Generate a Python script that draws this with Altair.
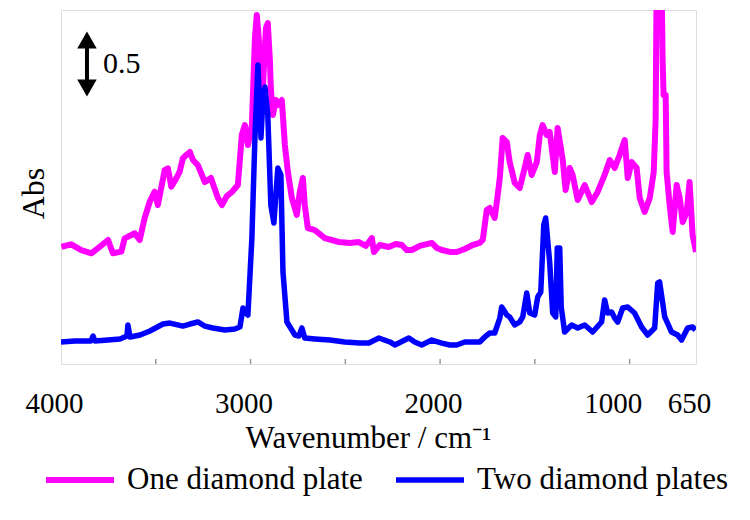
import altair as alt
import pandas as pd

# Spectra (wavenumber cm-1, absorbance)
one_plate = [
    (3998, 0.862), (3946, 0.880), (3893, 0.838), (3840, 0.814), (3796, 0.862),
    (3752, 0.912), (3726, 0.814), (3682, 0.826), (3664, 0.924), (3611, 0.961),
    (3585, 0.912), (3559, 1.071), (3532, 1.193), (3506, 1.267), (3489, 1.169),
    (3453, 1.426), (3436, 1.439), (3418, 1.304), (3392, 1.365), (3374, 1.414),
    (3357, 1.513), (3339, 1.537), (3320, 1.559), (3304, 1.500), (3278, 1.463),
    (3241, 1.338), (3209, 1.368), (3172, 1.221), (3151, 1.169), (3125, 1.235),
    (3098, 1.265), (3067, 1.316), (3046, 1.684), (3030, 1.757), (3014, 1.610),
    (2993, 1.757), (2977, 2.397), (2967, 2.566), (2956, 2.382), (2951, 2.147),
    (2935, 2.029), (2919, 2.470), (2909, 2.507), (2898, 2.235), (2893, 2.029),
    (2882, 1.831), (2866, 1.941), (2856, 1.904), (2835, 1.941), (2819, 1.610),
    (2803, 1.412), (2782, 1.221), (2756, 1.096), (2740, 1.265), (2724, 1.368),
    (2714, 1.169), (2698, 1.000), (2661, 0.985), (2608, 0.926), (2534, 0.897),
    (2476, 0.890), (2429, 0.897), (2392, 0.868), (2360, 0.926), (2349, 0.824),
    (2318, 0.875), (2271, 0.860), (2234, 0.882), (2202, 0.875), (2176, 0.838),
    (2149, 0.838), (2107, 0.868), (2044, 0.890), (2017, 0.853), (1991, 0.838),
    (1949, 0.824), (1912, 0.824), (1870, 0.846), (1828, 0.875), (1791, 0.890),
    (1775, 0.912), (1754, 1.132), (1738, 1.147), (1712, 1.074), (1696, 1.243),
    (1685, 1.368), (1670, 1.662), (1648, 1.632), (1633, 1.485), (1606, 1.331),
    (1580, 1.294), (1554, 1.441), (1538, 1.537), (1517, 1.390), (1490, 1.485),
    (1474, 1.684), (1459, 1.757), (1438, 1.684), (1422, 1.706), (1395, 1.412),
    (1380, 1.735), (1353, 1.500), (1338, 1.279), (1316, 1.441), (1301, 1.390),
    (1274, 1.206), (1237, 1.316), (1200, 1.191), (1169, 1.265), (1132, 1.390),
    (1105, 1.500), (1079, 1.441), (1053, 1.537), (1026, 1.647), (1010, 1.368),
    (989, 1.485), (963, 1.441), (947, 1.221), (921, 1.118), (894, 1.221),
    (873, 1.412), (863, 1.794), (858, 2.750), (831, 2.750), (826, 2.235),
    (821, 1.978), (810, 1.978), (805, 1.412), (789, 1.169), (773, 0.971),
    (752, 1.316), (736, 1.221), (720, 1.044), (699, 1.118), (684, 1.338),
    (668, 0.949), (650, 0.824),
]

two_plates = [
    (4000, 0.162), (3926, 0.169), (3842, 0.169), (3831, 0.206), (3821, 0.169),
    (3752, 0.176), (3689, 0.184), (3652, 0.206), (3647, 0.287), (3636, 0.199),
    (3583, 0.213), (3531, 0.243), (3462, 0.294), (3425, 0.301), (3357, 0.279),
    (3320, 0.294), (3278, 0.309), (3241, 0.279), (3199, 0.265), (3135, 0.250),
    (3083, 0.257), (3056, 0.272), (3040, 0.412), (3025, 0.375), (3014, 0.360),
    (2993, 0.926), (2977, 1.662), (2961, 2.199), (2945, 1.662), (2935, 1.938),
    (2924, 2.037), (2909, 1.831), (2893, 1.169), (2877, 1.037), (2856, 1.441),
    (2840, 1.390), (2829, 0.676), (2808, 0.309), (2766, 0.213), (2745, 0.206),
    (2729, 0.265), (2714, 0.191), (2661, 0.184), (2582, 0.176), (2503, 0.162),
    (2424, 0.154), (2376, 0.154), (2323, 0.191), (2265, 0.162), (2239, 0.140),
    (2165, 0.191), (2134, 0.162), (2097, 0.140), (2044, 0.176), (1991, 0.154),
    (1949, 0.140), (1912, 0.140), (1870, 0.162), (1828, 0.162), (1791, 0.162),
    (1764, 0.199), (1738, 0.228), (1712, 0.228), (1685, 0.338), (1675, 0.419),
    (1648, 0.360), (1633, 0.346), (1606, 0.287), (1580, 0.309), (1564, 0.346),
    (1543, 0.522), (1527, 0.375), (1501, 0.360), (1485, 0.493), (1469, 0.529),
    (1453, 1.022), (1443, 1.074), (1422, 0.750), (1406, 0.375), (1390, 0.346),
    (1382, 0.853), (1369, 0.853), (1361, 0.419), (1343, 0.235), (1306, 0.287),
    (1274, 0.265), (1237, 0.287), (1195, 0.235), (1148, 0.309), (1132, 0.471),
    (1116, 0.375), (1095, 0.382), (1079, 0.338), (1063, 0.309), (1037, 0.412),
    (1010, 0.419), (974, 0.375), (937, 0.272), (905, 0.213), (868, 0.265),
    (852, 0.596), (842, 0.603), (815, 0.346), (779, 0.235), (747, 0.213),
    (726, 0.176), (694, 0.265), (668, 0.272), (652, 0.250),
]

series_names = ["One diamond plate", "Two diamond plates"]
series_colors = ["#FF00FF", "#0000FF"]
tick_label_values = [4000, 3000, 2000, 1000, 650]
minor_tick_values = [3500, 3000, 2500, 2000, 1500, 1000]
x_domain = [650, 4000]
y_domain = [0, 2.603]

# scale bar (0.5 absorbance)
bar_wn = 3863
bar_bottom = 1.956
bar_length = 0.5
head_len = 0.147
bar_label = "0.5"
bar_label_wn = 3779

FONT = "Liberation Serif"

rows = []
for wn, a in one_plate:
    rows.append({"wn": wn, "abs": a, "series": series_names[0]})
for wn, a in two_plates:
    rows.append({"wn": wn, "abs": a, "series": series_names[1]})
df = pd.DataFrame(rows)

xscale = alt.Scale(domain=x_domain, reverse=True, nice=False, zero=False)
yscale = alt.Scale(domain=y_domain, nice=False, zero=False)

x_axis = alt.Axis(
    title="Wavenumber / cm⁻¹",
    values=tick_label_values,
    format="d",
    ticks=False,
    tickSize=0,
    domain=False,
    grid=False,
    labelFont=FONT,
    labelFontSize=29,
    labelColor="black",
    labelBaseline="alphabetic",
    labelPadding=48,
    labelOffset={"condition": {"test": "datum.value === 1000", "value": -17}, "value": -7},
    labelFlush=False,
    labelOverlap=False,
    titleFont=FONT,
    titleFontSize=31,
    titleFontWeight="normal",
    titleColor="black",
    titleBaseline="alphabetic",
    titleAlign="center",
    titleX=307,
    titleY=83,
)

y_axis = alt.Axis(
    title="Abs",
    labels=False,
    ticks=False,
    domain=False,
    grid=False,
    titleFont=FONT,
    titleFontSize=32,
    titleFontWeight="normal",
    titleColor="black",
    titleBaseline="alphabetic",
    titleAlign="center",
    titleAngle=270,
    titleX=-18,
    titleY=183,
)

lines = alt.Chart(df).mark_line(clip=True, strokeJoin="round").encode(
    x=alt.X("wn:Q", scale=xscale, axis=x_axis),
    y=alt.Y("abs:Q", scale=yscale, axis=y_axis),
    color=alt.Color(
        "series:N",
        scale=alt.Scale(domain=series_names, range=series_colors),
        legend=alt.Legend(
            title=None,
            orient="none",
            legendX=-18,
            legendY=433,
            direction="horizontal",
            symbolType="stroke",
            symbolSize=4624,
            symbolStrokeWidth=5,
            labelFont=FONT,
            labelFontSize=31,
            labelColor="black",
            labelOffset=10,
            labelLimit=0,
            columnPadding=22,
        ),
    ),
    strokeWidth=alt.StrokeWidth(
        "series:N",
        scale=alt.Scale(domain=series_names, range=[6, 5.5]),
        legend=None,
    ),
)

ticks = alt.Chart(pd.DataFrame({"wn": minor_tick_values})).mark_rule(
    color="#999999", strokeWidth=1.5
).encode(
    x=alt.X("wn:Q", scale=xscale),
    y=alt.value(354),
    y2=alt.value(349),
)

shaft_df = pd.DataFrame({"wn": [bar_wn], "abs": [bar_bottom + head_len * 0.5], "abs2": [bar_bottom + bar_length - head_len * 0.5]})
shaft = alt.Chart(shaft_df).mark_rule(color="black", strokeWidth=4).encode(
    x=alt.X("wn:Q", scale=xscale),
    y=alt.Y("abs:Q", scale=yscale),
    y2="abs2:Q",
)

up_df = pd.DataFrame({"wn": [bar_wn], "abs": [bar_bottom + bar_length - head_len / 2]})
down_df = pd.DataFrame({"wn": [bar_wn], "abs": [bar_bottom + head_len / 2]})
head_up = alt.Chart(up_df).mark_point(shape="triangle-up", filled=True, size=380, color="black", opacity=1).encode(
    x=alt.X("wn:Q", scale=xscale), y=alt.Y("abs:Q", scale=yscale)
)
head_down = alt.Chart(down_df).mark_point(shape="triangle-down", filled=True, size=380, color="black", opacity=1).encode(
    x=alt.X("wn:Q", scale=xscale), y=alt.Y("abs:Q", scale=yscale)
)

label_df = pd.DataFrame({"wn": [bar_label_wn], "abs": [bar_bottom + bar_length / 2], "t": [bar_label]})
bar_text = alt.Chart(label_df).mark_text(
    align="left", baseline="middle", font=FONT, fontSize=30, color="black"
).encode(
    x=alt.X("wn:Q", scale=xscale), y=alt.Y("abs:Q", scale=yscale), text="t:N"
)

chart = alt.layer(lines, ticks, shaft, head_up, head_down, bar_text).properties(
    width=635,
    height=354,
    padding={"left": 53, "top": 2, "right": 46, "bottom": 148},
    autosize=alt.AutoSizeParams(type="none"),
).configure_view(stroke="#666666", strokeWidth=2).configure(background="white")

chart.save("out.html", embed_options={"renderer": "svg", "actions": False})
